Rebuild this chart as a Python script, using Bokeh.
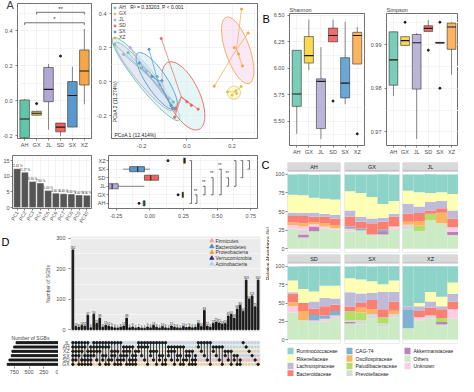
import math, itertools
from bokeh.plotting import figure
from bokeh.layouts import row, column
from bokeh.models import (Range1d, Label, BoxAnnotation, FixedTicker, Legend, LegendItem,
                          PrintfTickFormatter, ColumnDataSource)
from bokeh.core.properties import value
from bokeh.embed import file_html
from bokeh.resources import INLINE

FONT = "Liberation Sans"
TXT = "#4D4D4D"

# ---------------- data ----------------
GROUPS = ["AH", "GX", "JL", "SD", "SX", "XZ"]
A_COLORS = ["#63C5A8", "#D8C75A", "#B2A7D5", "#EF625E", "#5A98CD", "#F5A647"]
B_COLORS = ["#7ACDB8", "#FDD74E", "#BDB4DA", "#F36B6B", "#6AA7D7", "#FCB45E"]

# A: PCoA2 by group
A_LO = [-0.215, -0.085, -0.165, -0.200, -0.150, -0.020]
A_Q1 = [-0.210, -0.082, -0.005, -0.177, -0.150, 0.090]
A_MED = [-0.104, -0.071, 0.065, -0.150, 0.030, 0.170]
A_Q3 = [0.005, -0.060, 0.190, -0.127, 0.110, 0.290]
A_HI = [0.010, -0.058, 0.210, -0.127, 0.195, 0.410]
A_OUT_G = ["GX", "SD"]
A_OUT_V = [-0.016, 0.255]
A_SIG_FROM = ["GX", "AH"]
A_SIG_TO = ["XZ", "XZ"]
A_SIG_Y = [0.505, 0.445]
A_SIG_TXT = ["**", "*"]

# scree
PCS = ["PC1", "PC2", "PC3", "PC4", "PC5", "PC6", "PC7", "PC8", "PC9", "PC10"]
PC_VAR = [12.41, 11.27, 8.3, 7.8, 5.4, 4.6, 4.4, 4.3, 4.0, 3.9]

# PCoA
PCOA_PTS = {
    "AH": [(-0.32, 0.22), (-0.26, 0.17), (-0.20, 0.08), (-0.13, 0.03), (-0.06, -0.12), (-0.05, -0.16)],
    "GX": [(0.18, -0.06), (0.24, -0.03), (0.20, -0.08), (0.217, -0.054), (0.22, -0.07)],
    "JL": [(-0.28, 0.16), (-0.25, 0.20), (-0.18, 0.06), (-0.08, -0.10), (-0.05, -0.17), (-0.12, -0.02)],
    "SD": [(-0.113, 0.254), (-0.05, -0.157), (0.05, -0.162), (0.0, -0.119), (-0.054, -0.21), (0.02, -0.14)],
    "SX": [(-0.167, 0.19), (-0.21, 0.11), (-0.154, 0.03), (-0.063, -0.157), (-0.11, 0.005), (-0.07, -0.14)],
    "XZ": [(0.242, 0.427), (0.271, 0.286), (0.246, 0.092), (0.121, -0.027), (0.229, 0.162), (0.21, 0.20)],
}
# ellipse: centre, major half-axis vector, minor half-axis vector
PCOA_ELL = {
    "AH": (-0.180, 0.015, 0.146, -0.243, 0.033, 0.033),
    "GX": (0.208, -0.065, 0.029, 0.0, 0.0, 0.038),
    "JL": (-0.190, 0.030, 0.125, -0.200, 0.026, 0.027),
    "SD": (-0.015, -0.084, 0.069, -0.197, 0.065, 0.038),
    "SX": (-0.133, 0.003, 0.083, -0.165, 0.038, 0.032),
    "XZ": (0.225, 0.184, -0.050, 0.195, 0.051, 0.022),
}
PCOA_FILL = ["#CDEEE6", "#FFF6B8", "#E3DEF1", "#CFEFF0", "#D3E5F4", "#F8D6EF"]

# lower boxplot (PCoA1)
LB_LO = [-0.050, 0.240, -0.330, -0.040, -0.200, 0.250]
LB_Q1 = [-0.050, 0.240, -0.320, -0.040, -0.150, 0.250]
LB_MED = [-0.042, 0.245, -0.280, 0.007, -0.090, 0.258]
LB_Q3 = [-0.035, 0.250, -0.235, 0.065, -0.040, 0.265]
LB_HI = [-0.035, 0.250, -0.040, 0.065, 0.000, 0.265]
LB_OUT_G = ["AH", "GX", "XZ"]
LB_OUT_V = [-0.08, 0.21, 0.135]
LB_SIG_A = ["XZ", "GX", "JL", "SD", "SX", "SD", "XZ", "XZ", "XZ"]
LB_SIG_B = ["AH", "AH", "GX", "GX", "GX", "JL", "JL", "SD", "SX"]
LB_SIG_X = [0.31, 0.35, 0.41, 0.47, 0.53, 0.585, 0.64, 0.69, 0.74]

# B: alpha diversity
SH_LO = [5.38, 5.98, 5.33, 6.25, 5.66, 6.04]
SH_Q1 = [5.64, 6.05, 5.43, 6.25, 5.72, 6.04]
SH_MED = [5.757, 6.12, 5.876, 6.31, 5.86, 6.31]
SH_Q3 = [6.17, 6.30, 5.90, 6.38, 6.10, 6.34]
SH_HI = [6.17, 6.46, 6.20, 6.46, 6.44, 6.39]
SH_OUT_G = ["SD", "XZ"]
SH_OUT_V = [5.69, 5.38]
SI_LO = [0.9782, 0.9898, 0.9684, 0.9930, 0.9903, 0.9831]
SI_Q1 = [0.9807, 0.9898, 0.9798, 0.9930, 0.9903, 0.9889]
SI_MED = [0.9865, 0.9909, 0.9904, 0.9937, 0.9904, 0.9940]
SI_Q3 = [0.9929, 0.9918, 0.9923, 0.9943, 0.9905, 0.9949]
SI_HI = [0.9930, 0.9918, 0.9926, 0.9956, 0.9905, 0.9951]
SI_OUT_G = ["GX", "SD", "SX", "SX"]
SI_OUT_V = [0.9951, 0.9887, 0.9951, 0.9800]

# C: family composition (bottom -> top of stack), 5 samples per site
STACK_FAMS = ["Others", "Akkermansiaceae", "Prevotellaceae", "Unknown", "Paludibacteraceae",
              "Oscillospiraceae", "CAG-74", "Bacteroidaceae", "Lachnospiraceae", "Rikenellaceae",
              "Ruminococcaceae"]
STACK_COLORS = ["#CCEBC5", "#BC80BD", "#D9D9D9", "#FCCDE5", "#B3DE69",
                "#FDB462", "#80B1D3", "#FB8072", "#BEBADA", "#FFFFB3", "#8DD3C7"]
C_AH = [[27, 15, 23.6, 27, 25.8], [0, 4.3, 6.4, 0, 0], [0, 6.4, 0, 0, 0], [5, 4.3, 3, 3, 2],
        [0, 0, 0, 0, 0], [3.4, 4.3, 3, 4.3, 4.3], [0, 0, 0, 0, 0], [8.6, 9.9, 7, 8.6, 8.6],
        [4.3, 4.3, 5.6, 4.3, 5], [24.5, 23.6, 20, 20, 20.6], [27, 28, 31, 32.6, 33.5]]
C_GX = [[23.6, 24.5, 19.3, 19.3, 27], [0, 0, 0, 3.4, 0], [0, 0, 0, 0, 0], [3.4, 0, 0, 0, 3],
        [0, 0, 0, 0, 0], [0, 0, 0, 0, 0], [3, 2.6, 0, 3, 0], [12.9, 9.4, 15, 10.7, 12.9],
        [8.6, 6.4, 6.4, 5.2, 4.3], [25.8, 32, 28.8, 18.5, 17.2], [22.7, 25, 30.5, 40, 35.6]]
C_JL = [[25.8, 23.6, 38.6, 34.3, 18.5], [0, 0, 0, 0, 4.3], [6.4, 0, 0, 0, 0], [0, 0, 0, 0, 6],
        [0, 7.3, 8.6, 0, 0], [4.3, 6.4, 0, 14.2, 0], [0, 0, 0, 0, 0], [10.7, 10.7, 4.3, 6, 12],
        [12.9, 8.7, 11.6, 9.9, 10.7], [18, 19.3, 12, 11.6, 22.3], [21.9, 24, 25, 24, 26.2]]
C_SD = [[37.2, 26.5, 24.4, 25.2, 29.5], [0, 0, 0, 0, 0], [0, 0, 0, 0, 0], [8.5, 0, 2, 3.4, 3.4],
        [0, 0, 0, 0, 0], [5.1, 12.8, 0, 0, 0], [0, 0, 7.3, 4.3, 6.4], [12, 10.7, 8.4, 12.8, 8.5],
        [2, 0, 10, 11.5, 8.5], [15.8, 19.2, 13.7, 16.2, 17.1], [19.2, 30.8, 34.2, 26.5, 26.5]]
C_SX = [[22.2, 21, 28.6, 17.9, 30.8], [2, 0, 0, 0, 0], [2, 5.6, 6.4, 4.3, 4.3], [0, 0, 0, 0, 0],
        [12.8, 10.7, 0, 8.5, 0], [0, 6.4, 6.4, 0, 4.3], [0, 0, 0, 0, 0], [6.4, 6.4, 12.8, 10.7, 12.8],
        [19.2, 12.8, 9.4, 23.5, 12.8], [19.2, 19.2, 16.2, 10.7, 15.8], [15.8, 18, 20, 24.4, 19.2]]
C_XZ = [[15.8, 26.5, 28.6, 21, 28.6], [0, 0, 0, 3.4, 0], [0, 0, 4.3, 0, 0], [0, 4.3, 0, 0, 12.8],
        [0, 0, 0, 5.1, 0], [0, 0, 0, 0, 0], [25.6, 0, 0, 0, 0], [0, 8.5, 10.7, 12, 10.7],
        [4.3, 6.4, 8.5, 4.3, 10.7], [0, 4.3, 12.8, 12.8, 15], [54.3, 50, 35, 41.5, 22.2]]
LEGEND_FAMS = ["Ruminococcaceae", "Rikenellaceae", "Lachnospiraceae", "Bacteroidaceae",
               "CAG-74", "Oscillospiraceae", "Paludibacteraceae", "Prevotellaceae",
               "Akkermansiaceae", "Others", "Unknown"]

# D: UpSet
SETS = ["JL", "AH", "XZ", "SX", "SD", "GX"]          # top -> bottom
SET_SIZE = [720, 760, 790, 800, 840, 870]
SET_BG = ["#DCE6F4", "#D8EEF0", "#FCE3C3", "#D0E2F2", "#F7D0D0", "#FCEFC4"]
INTER_COUNT = [262,
               10, 8, 14, 12, 47, 6,
               50, 20, 38, 8, 15, 12, 9, 6, 5, 8, 12, 38, 6, 9, 5,
               7, 5, 4, 9, 6, 14, 8, 5, 10, 6, 4, 12, 8, 6, 5, 10, 7, 9, 6, 8,
               20, 10, 63, 12, 8, 20, 25, 22, 18, 20, 45, 50, 38, 68, 80,
               60, 163, 100, 111, 75, 163]
PHYLA = ["Firmicutes", "Bacteroidetes", "Proteobacteria", "Verrucomicrobia", "Actinobacteria"]
PHYLA_COL = ["#F4A3A8", "#3F8FCB", "#F2A03D", "#3B2A86", "#A6D8EA"]


# ---------------- helpers ----------------
def mkfig(w, h, xr, yr, l, r, t, b, xaxis=True, yaxis=True, bg="white", outline="#333333"):
    p = figure(width=w, height=h, x_range=xr, y_range=yr, output_backend="svg",
               toolbar_location=None, min_border_left=l, min_border_right=r,
               min_border_top=t, min_border_bottom=b,
               x_axis_location="below" if xaxis else None,
               y_axis_location="left" if yaxis else None)
    p.background_fill_color = bg
    p.border_fill_color = "white"
    p.outline_line_color = outline
    p.outline_line_width = 0.7
    for ax in p.axis:
        ax.major_label_text_font = FONT
        ax.major_label_text_font_size = "5.5px"
        ax.major_label_text_color = TXT
        ax.axis_line_color = None
        ax.major_tick_line_color = "#333333"
        ax.major_tick_line_width = 0.6
        ax.major_tick_out = 2
        ax.major_tick_in = 0
        ax.minor_tick_line_color = None
        ax.major_label_standoff = 1
        ax.axis_label_text_font = FONT
        ax.axis_label_text_font_size = "5px"
        ax.axis_label_text_font_style = "normal"
        ax.axis_label_standoff = 2
    for g in p.grid:
        g.grid_line_color = "#EBEBEB"
        g.grid_line_width = 0.6
    return p


def letter_fig(txt, w, h):
    p = mkfig(w, h, Range1d(0, w), Range1d(0, h), 0, 0, 0, 0, xaxis=False, yaxis=False, outline=None)
    p.grid.visible = False
    p.text([1], [h + 1], text=[txt], text_font=value(FONT), text_font_size="11px",
           text_baseline="top", text_color="black")
    return p


def cat_axis(ax, labels):
    pos = list(range(1, len(labels) + 1))
    ax.ticker = FixedTicker(ticks=pos)
    ax.major_label_overrides = {i: s for i, s in zip(pos, labels)}


def vbox(p, lo, q1, med, q3, hi, colors, w, out_g, out_v):
    xs = list(range(1, len(lo) + 1))
    p.segment(x0=xs, y0=lo, x1=xs, y1=hi, line_color="#555555", line_width=0.7)
    p.vbar(x=xs, bottom=q1, top=q3, width=w, fill_color=colors, line_color="#333333", line_width=0.6)
    p.segment(x0=[x - w / 2 for x in xs], y0=med, x1=[x + w / 2 for x in xs], y1=med,
              line_color="#1A1A1A", line_width=1.1)
    idx = {g: i + 1 for i, g in enumerate(GROUPS)}
    p.scatter([idx[g] for g in out_g], out_v, size=2, color="#1A1A1A")


GPOS = {g: i + 1 for i, g in enumerate(GROUPS)}

# ---------------- A: PCoA2 boxplot ----------------
pA = mkfig(94, 152, Range1d(0.4, 6.6), Range1d(-0.215, 0.555), 12, 3, 3, 14)
cat_axis(pA.xaxis[0], GROUPS)
pA.yaxis.ticker = FixedTicker(ticks=[-0.2, 0.0, 0.2, 0.4], minor_ticks=[-0.1, 0.1, 0.3, 0.5])
pA.yaxis.formatter = PrintfTickFormatter(format="%.1f")
pA.ygrid.minor_grid_line_color = "#F4F4F4"
vbox(pA, A_LO, A_Q1, A_MED, A_Q3, A_HI, A_COLORS, 0.8, A_OUT_G, A_OUT_V)
for a, b, y, t in zip(A_SIG_FROM, A_SIG_TO, A_SIG_Y, A_SIG_TXT):
    xa, xb = GPOS[a], GPOS[b]
    pA.line([xa, xa, xb, xb], [y - 0.012, y, y, y - 0.012], line_color="#333333", line_width=0.7)
    pA.text([(xa + xb) / 2], [y + 0.003], text=[t], text_font=value(FONT), text_font_size="6px",
            text_align="center", text_baseline="bottom", text_color="#333333")
# panel letter as a title pulled into the left margin
pA.title.text = "A"
pA.title.text_font = FONT
pA.title.text_font_size = "11px"
pA.title.text_font_style = "normal"
pA.title.align = "left"
pA.title.offset = -11
pA.title.vertical_align = "bottom"
pA.title.standoff = -15

# ---------------- PCoA scatter ----------------
pP = mkfig(167, 152, Range1d(-0.333, 0.3125), Range1d(-0.335, 0.46), 13, 4, 3, 8)
pP.xaxis.ticker = FixedTicker(ticks=[-0.2, 0.0, 0.2], minor_ticks=[-0.3, -0.1, 0.1, 0.3])
pP.yaxis.ticker = FixedTicker(ticks=[-0.2, 0.0, 0.2, 0.4], minor_ticks=[-0.3, -0.1, 0.1, 0.3])
pP.xaxis.formatter = PrintfTickFormatter(format="%.1f")
pP.yaxis.formatter = PrintfTickFormatter(format="%.1f")
pP.xgrid.minor_grid_line_color = "#F4F4F4"
pP.ygrid.minor_grid_line_color = "#F4F4F4"
leg_items = []
for g, col, fill in zip(GROUPS, A_COLORS, PCOA_FILL):
    cx, cy, ux, uy, vx, vy = PCOA_ELL[g]
    ts = [2 * math.pi * i / 72 for i in range(73)]
    ex = [cx + ux * math.cos(t) + vx * math.sin(t) for t in ts]
    ey = [cy + uy * math.cos(t) + vy * math.sin(t) for t in ts]
    pP.patch(ex, ey, fill_color=fill, fill_alpha=0.55, line_color=col, line_width=0.9)
for g, col in zip(GROUPS, A_COLORS):
    pts = PCOA_PTS[g]
    px = [q[0] for q in pts]
    py = [q[1] for q in pts]
    mx, my = sum(px) / len(px), sum(py) / len(py)
    pP.segment(x0=[mx] * len(px), y0=[my] * len(py), x1=px, y1=py, line_color=col, line_width=0.7)
    r = pP.scatter(px, py, size=2.2, color=col)
    leg_items.append(LegendItem(label=g, renderers=[r]))
leg = Legend(items=leg_items, location="top_left", label_text_font=FONT, label_text_font_size="5px",
             glyph_height=5, glyph_width=5, label_height=5, spacing=0, padding=1, margin=1,
             border_line_color=None, background_fill_alpha=0, label_standoff=2)
pP.add_layout(leg)
pP.add_layout(Label(x=-0.25, y=0.455, text="R² = 0.33203, P < 0.001", text_font=FONT,
                    text_font_size="5px", text_baseline="top", text_color="#1A1A1A"))
pP.add_layout(Label(x=-0.32, y=-0.333, text="PCoA 1 (12.414%)", text_font=FONT,
                    text_font_size="5px", text_baseline="bottom", text_color="#1A1A1A"))
pP.add_layout(Label(x=-0.331, y=-0.24, text="PCoA 2 (11.274%)", text_font=FONT, angle=math.pi / 2,
                    text_font_size="5px", text_baseline="top", text_color="#1A1A1A"))

# ---------------- scree ----------------
pS = mkfig(94, 76, Range1d(0.4, 10.6), Range1d(-0.3, 16.6), 12, 3, 3, 18)
cat_axis(pS.xaxis[0], PCS)
pS.xaxis.major_label_orientation = math.pi / 3
pS.xaxis.major_label_text_font_size = "5px"
pS.yaxis.ticker = FixedTicker(ticks=[0, 5, 10, 15])
pxs = list(range(1, 11))
pS.vbar(x=pxs, top=PC_VAR, width=0.9, fill_color="#555555", line_color="white", line_width=0.4)
pS.text(pxs, [v + 0.3 for v in PC_VAR], text=["%.2f %%" % v for v in PC_VAR], text_font=value(FONT),
        text_font_size="3px", text_align="center", text_baseline="bottom", text_color="#333333")

# ---------------- lower boxplot ----------------
pL = mkfig(167, 76, Range1d(-0.307, 0.8), Range1d(0.4, 6.6), 13, 4, 1, 8)
cat_axis(pL.yaxis[0], GROUPS)
pL.xaxis.ticker = FixedTicker(ticks=[-0.25, 0.0, 0.25, 0.5, 0.75], minor_ticks=[-0.125, 0.125, 0.375, 0.625])
pL.xaxis.formatter = PrintfTickFormatter(format="%.2f")
pL.xgrid.minor_grid_line_color = "#F4F4F4"
ys = list(range(1, 7))
pL.segment(x0=LB_LO, y0=ys, x1=LB_HI, y1=ys, line_color="#555555", line_width=0.7)
pL.hbar(y=ys, left=LB_Q1, right=LB_Q3, height=0.6, fill_color=A_COLORS, line_color="#333333", line_width=0.6)
pL.segment(x0=LB_MED, y0=[y - 0.3 for y in ys], x1=LB_MED, y1=[y + 0.3 for y in ys],
           line_color="#1A1A1A", line_width=1.0)
pL.scatter(LB_OUT_V, [GPOS[g] for g in LB_OUT_G], size=2, color="#1A1A1A")
for a, b, x in zip(LB_SIG_A, LB_SIG_B, LB_SIG_X):
    ya, yb = GPOS[a], GPOS[b]
    pL.line([x - 0.015, x, x, x - 0.015], [ya, ya, yb, yb], line_color="#333333", line_width=0.7)
    pL.text([x - 0.01], [max(ya, yb) + 0.15], text=["**"], text_font=value(FONT), text_font_size="4.5px",
            text_align="center", text_baseline="bottom", text_color="#333333")

# ---------------- D: UpSet ----------------
NI = len(INTER_COUNT)
combos = []
for k in range(len(SETS), 0, -1):
    combos.extend(itertools.combinations(range(len(SETS)), k))
ix = list(range(NI))
pD = mkfig(241, 104, Range1d(-0.8, NI - 0.2), Range1d(-6, 306), 50, 1, 8, 1, xaxis=False,
           bg="#EBEBEB", outline=None)
pD.yaxis.ticker = FixedTicker(ticks=[0, 100, 200, 300], minor_ticks=[50, 150, 250])
pD.yaxis.axis_label = "Number of SGBs"
pD.ygrid.grid_line_color = "white"
pD.ygrid.minor_grid_line_color = "#F5F5F5"
pD.vbar(x=ix, top=INTER_COUNT, width=0.55, color="#1A1A1A")
pD.text(ix, [v + 3 for v in INTER_COUNT], text=[str(v) for v in INTER_COUNT], text_font=value(FONT),
        text_font_size="3px", text_align="center", text_baseline="bottom", text_color="#1A1A1A")
lx = [46.5] * len(PHYLA)
ly = [292, 273, 254, 235, 216]
pD.scatter(lx, ly, marker="triangle", size=4, color=PHYLA_COL)
pD.text([v + 1.2 for v in lx], ly, text=PHYLA, text_font=value(FONT), text_font_size="5px",
        text_baseline="middle", text_color="#333333")
pLD = letter_fig("D", 20, 104)

pM = mkfig(203, 44, Range1d(-0.8, NI - 0.2), Range1d(-0.5, 5.5), 12, 1, 7, 8, xaxis=False, outline=None)
pM.yaxis.ticker = FixedTicker(ticks=list(range(6)))
pM.yaxis.major_label_overrides = {5 - i: s for i, s in enumerate(SETS)}
pM.yaxis.major_tick_out = 0
pM.yaxis.major_label_text_font_size = "5px"
pM.grid.visible = False
rows_y = [5 - i for i in range(len(SETS))]
pM.hbar(y=rows_y, left=-0.8, right=NI - 0.2, height=1, fill_color=SET_BG, line_color=None)
gx, gy, bx, by, sx0, sy0, sy1 = [], [], [], [], [], [], []
for c, comb in enumerate(combos):
    for s in range(len(SETS)):
        if s in comb:
            bx.append(c); by.append(5 - s)
        else:
            gx.append(c); gy.append(5 - s)
    if len(comb) > 1:
        sx0.append(c); sy0.append(5 - min(comb)); sy1.append(5 - max(comb))
pM.scatter(gx, gy, size=2.0, color="#C8C8C8", alpha=0.6)
pM.segment(x0=sx0, y0=sy0, x1=sx0, y1=sy1, line_color="#1A1A1A", line_width=0.8)
pM.scatter(bx, by, size=2.4, color="#1A1A1A")

pZ = mkfig(58, 44, Range1d(950, 0), Range1d(-0.5, 5.5), 2, 0, 7, 8, yaxis=False, outline=None)
pZ.xaxis.ticker = FixedTicker(ticks=[0, 250, 500, 750])
pZ.grid.visible = False
pZ.hbar(y=rows_y, left=0, right=SET_SIZE, height=0.45, color="#1A1A1A")
pZ.title.text = "Number of SGBs"
pZ.title.text_font = FONT
pZ.title.text_font_size = "5px"
pZ.title.text_font_style = "normal"
pZ.title.align = "center"
pZ.title.standoff = 0

# ---------------- B: alpha diversity ----------------
pSh = mkfig(97, 159, Range1d(0.4, 6.6), Range1d(5.27, 6.518), 15, 3, 13, 14)
cat_axis(pSh.xaxis[0], GROUPS)
pSh.yaxis.ticker = FixedTicker(ticks=[5.5, 5.75, 6.0, 6.25, 6.5], minor_ticks=[5.375, 5.625, 5.875, 6.125, 6.375])
pSh.yaxis.formatter = PrintfTickFormatter(format="%.2f")
pSh.ygrid.minor_grid_line_color = "#F4F4F4"
vbox(pSh, SH_LO, SH_Q1, SH_MED, SH_Q3, SH_HI, B_COLORS, 0.75, SH_OUT_G, SH_OUT_V)
pSh.title.text = "Shannon"
pSi = mkfig(91, 159, Range1d(0.4, 6.6), Range1d(0.9669, 0.9971), 13, 0, 13, 14)
cat_axis(pSi.xaxis[0], GROUPS)
pSi.yaxis.ticker = FixedTicker(ticks=[0.97, 0.98, 0.99], minor_ticks=[0.975, 0.985, 0.995])
pSi.yaxis.formatter = PrintfTickFormatter(format="%.2f")
pSi.ygrid.minor_grid_line_color = "#F4F4F4"
vbox(pSi, SI_LO, SI_Q1, SI_MED, SI_Q3, SI_HI, B_COLORS, 0.75, SI_OUT_G, SI_OUT_V)
pSi.title.text = "Simpson"
for p_ in (pSh, pSi):
    p_.title.text_font = FONT
    p_.title.text_font_size = "5.5px"
    p_.title.text_font_style = "normal"
    p_.title.standoff = 1
pLB = letter_fig("B", 9, 159)


# ---------------- C: composition ----------------
def facet(name, data, w, h, l, r, t, b, show_y):
    p = mkfig(w, h, Range1d(-0.5, 4.5), Range1d(-5, 116), l, r, t, b, xaxis=False, yaxis=show_y,
              outline=None)
    p.grid.visible = False
    if show_y:
        p.yaxis.ticker = FixedTicker(ticks=[0, 25, 50, 75, 100])
    src = {"x": list(range(len(data[0])))}
    for fam, vals in zip(STACK_FAMS, data):
        src[fam] = vals
    p.vbar_stack(STACK_FAMS, x="x", width=1.0, fill_color=STACK_COLORS, line_color=None,
                 source=ColumnDataSource(src))
    p.add_layout(BoxAnnotation(bottom=105, top=116, fill_color="#D9D9D9", fill_alpha=1,
                               line_color="#333333", line_width=0.6))
    p.add_layout(BoxAnnotation(bottom=-5, top=104, fill_alpha=0, line_color="#333333", line_width=0.6))
    p.add_layout(Label(x=2, y=110.5, text=name, text_align="center", text_baseline="middle",
                       text_font=FONT, text_font_size="5.5px", text_color="#1A1A1A"))
    return p


c1 = facet("AH", C_AH, 73, 94, 18, 2, 3, 1, True)
c2 = facet("GX", C_GX, 58, 94, 2, 1, 3, 1, False)
c3 = facet("JL", C_JL, 58, 94, 2, 0, 3, 1, False)
c4 = facet("SD", C_SD, 73, 93, 18, 2, 1, 3, True)
c5 = facet("SX", C_SX, 58, 93, 2, 1, 1, 3, False)
c6 = facet("XZ", C_XZ, 58, 93, 2, 0, 1, 3, False)

pCt = mkfig(8, 187, Range1d(0, 8), Range1d(0, 187), 0, 0, 0, 0, xaxis=False, yaxis=False, outline=None)
pCt.grid.visible = False
pCt.text([6], [93], text=["Relative Abundance (%)"], angle=math.pi / 2, text_font=value(FONT),
         text_font_size="5px", text_align="center", text_baseline="middle", text_color="#1A1A1A")
pCt.text([0], [188], text=["C"], text_font=value(FONT), text_font_size="11px",
         text_baseline="top", text_color="black")

pLeg = mkfig(197, 30, Range1d(0, 197), Range1d(30, 0), 0, 0, 0, 0, xaxis=False, yaxis=False, outline=None)
pLeg.grid.visible = False
col_x = [26, 85, 143]
row_y = [4.5, 12, 19.5, 27]
fam_col = dict(zip(STACK_FAMS, STACK_COLORS))
lxs = [col_x[i // 4] for i in range(len(LEGEND_FAMS))]
lys = [row_y[i % 4] for i in range(len(LEGEND_FAMS))]
pLeg.rect(x=[v + 3 for v in lxs], y=lys, width=6, height=6.5, fill_color=[fam_col[f] for f in LEGEND_FAMS],
          line_color=None)
pLeg.text([v + 9 for v in lxs], lys, text=LEGEND_FAMS, text_font=value(FONT), text_font_size="5px",
          text_baseline="middle", text_color="#1A1A1A")

left_col = column(row(pA, pP), row(pS, pL), column(row(pLD, pD), row(pZ, pM)))
right_col = column(row(pLB, pSh, pSi), row(pCt, column(row(c1, c2, c3), row(c4, c5, c6))), pLeg)
layout = row(left_col, right_col)

open("out.html", "w").write(file_html(layout, INLINE))
